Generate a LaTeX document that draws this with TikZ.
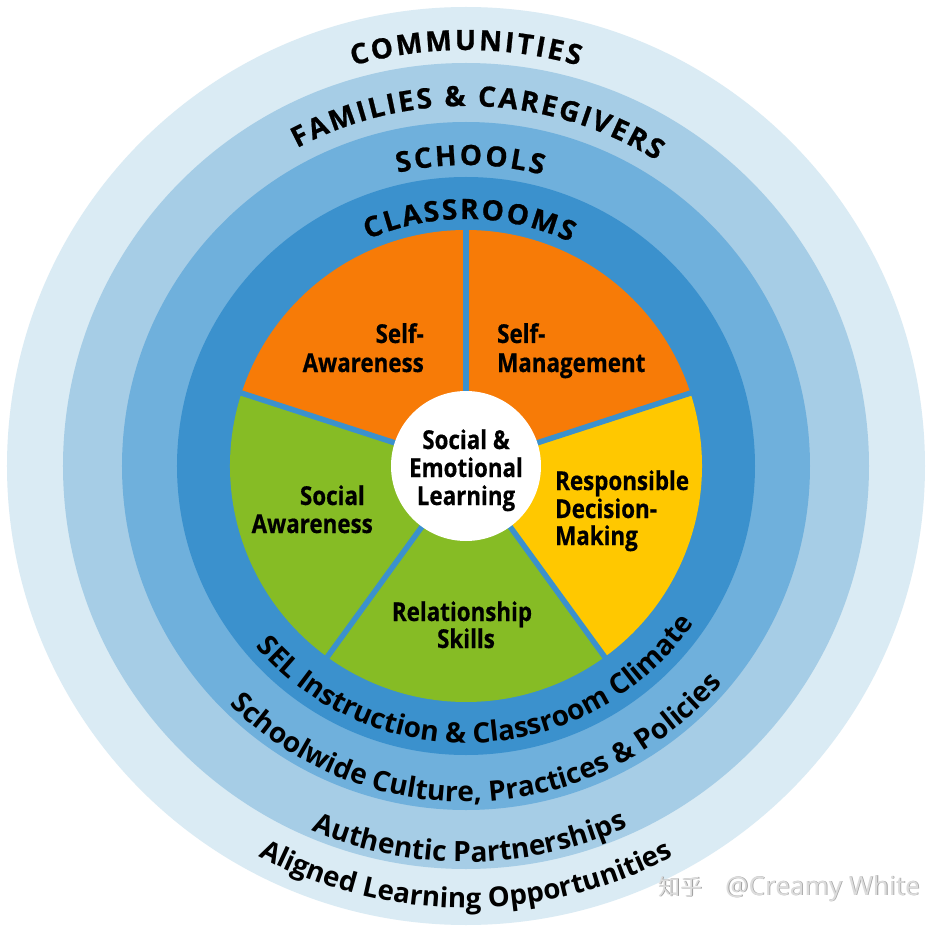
\documentclass[tikz,border=0pt]{standalone}
\usepackage{fontspec}
\setmainfont{Open Sans}
\newfontfamily\condfont[FakeStretch=0.86, FakeBold=0.5]{Open Sans}
\newfontfamily\titlefont[FakeBold=0.8]{Open Sans}
\newfontfamily\cjkfont{Noto Sans CJK SC}
\newfontfamily\wmfont{Noto Sans}
\definecolor{ringA}{HTML}{DAEBF4}
\definecolor{ringB}{HTML}{A6CDE6}
\definecolor{ringC}{HTML}{6FB0DC}
\definecolor{ringD}{HTML}{3B91CD}
\definecolor{selOrange}{HTML}{F77B07}
\definecolor{selGreen}{HTML}{86BC25}
\definecolor{selYellow}{HTML}{FFC800}
\definecolor{wmLight}{HTML}{DCDCDC}
\definecolor{wmDark}{HTML}{A0A0A0}
\newcommand\capsfont{\titlefont\bfseries\fontsize{28}{30}\selectfont}
\newcommand\lowfont{\bfseries\fontsize{28}{30}\selectfont}
\newcommand\lowfontb{\bfseries\fontsize{27.6}{30}\selectfont}
\newcommand\cm{,}
% #1 radius, #2 centre angle, #3 extra spacing (pt), #4 font, #5 direction (1 top, -1 bottom), #6 characters
\newcommand\arctext[6]{%
  \gdef\arctot{0}%
  \foreach \ch in {#6} {%
    \pgfinterruptpicture\setbox0=\hbox{#4\ch}\xdef\chw{\the\wd0}\endpgfinterruptpicture
    \pgfmathsetmacro\tmpsum{\arctot+\chw+#3}%
    \global\let\arctot\tmpsum
  }%
  \pgfmathsetmacro\tmpstart{-\arctot/2}%
  \global\let\arcpos\tmpstart
  \foreach \ch in {#6} {%
    \pgfinterruptpicture\setbox0=\hbox{#4\ch}\xdef\chw{\the\wd0}\endpgfinterruptpicture
    \pgfmathsetmacro\arcw{\chw+#3}%
    \pgfmathsetmacro\arcang{#2-(#5)*(\arcpos+\arcw/2)*57.29578/#1}%
    \pgfmathsetmacro\arcrot{\arcang-(#5)*90}%
    \node[anchor=base, inner sep=0pt, text=black, rotate=\arcrot] at (\arcang:#1) {#4\ch};
    \pgfmathsetmacro\tmpnext{\arcpos+\arcw}%
    \global\let\arcpos\tmpnext
  }%
}
\begin{document}
\begin{tikzpicture}[x=1pt,y=1pt,
  lbl/.style={font=\condfont\bfseries\fontsize{26}{28}\selectfont, inner sep=0pt, text=black},
  divider/.style={draw=ringD, line width=5.5pt},
  wmshadow/.style={inner sep=0pt, text=wmDark},
  wmtext/.style={inner sep=0pt, text=wmLight}
]
\useasboundingbox (-466,-466) rectangle (482,466);
\fill[white] (-466,-466) rectangle (482,466);
% rings
\fill[ringA] (0,0) circle[radius=459];
\fill[ringB] (0,0) circle[radius=403];
\fill[ringC] (0,0) circle[radius=344];
\fill[ringD] (0,0) circle[radius=289];
% wedges
\fill[selOrange] (0,0) -- (18:236) arc[start angle=18, end angle=90, radius=236] -- cycle;
\fill[selOrange] (0,0) -- (90:236) arc[start angle=90, end angle=162, radius=236] -- cycle;
\fill[selGreen] (0,0) -- (162:236) arc[start angle=162, end angle=234, radius=236] -- cycle;
\fill[selGreen] (0,0) -- (234:236) arc[start angle=234, end angle=306, radius=236] -- cycle;
\fill[selYellow] (0,0) -- (306:236) arc[start angle=306, end angle=378, radius=236] -- cycle;
% dividers
\coordinate (c0) at (0,0);
\foreach \a in {18,90,162,234,306} {
  \coordinate (d\a) at (\a:238);
  \draw[divider] (c0) -- (d\a);
}
\node[circle, fill=white, minimum size=150pt, inner sep=0pt] (hub) at (0,0) {};
% top titles
\arctext{416}{90}{2.6}{\capsfont}{1}{C,O,M,M,U,N,I,T,I,E,S}
\arctext{360}{88}{2.3}{\capsfont}{1}{F,A,M,I,L,I,E,S,~,\&,~,C,A,R,E,G,I,V,E,R,S}
\arctext{301}{89.2}{2.6}{\capsfont}{1}{S,C,H,O,O,L,S}
\arctext{247}{89.2}{2.2}{\capsfont}{1}{C,L,A,S,S,R,O,O,M,S}
% bottom texts
\arctext{277}{273.1}{0}{\lowfont}{-1}{S,E,L,~,I,n,s,t,r,u,c,t,i,o,n,~,\&,~,C,l,a,s,s,r,o,o,m,~,C,l,i,m,a,t,e}
\arctext{336}{272.5}{0}{\lowfont}{-1}{S,c,h,o,o,l,w,i,d,e,~,C,u,l,t,u,r,e,\cm,~,P,r,a,c,t,i,c,e,s,~,\&,~,P,o,l,i,c,i,e,s}
\arctext{396}{270.6}{0}{\lowfont}{-1}{A,u,t,h,e,n,t,i,c,~,P,a,r,t,n,e,r,s,h,i,p,s}
\arctext{442}{270}{0}{\lowfontb}{-1}{A,l,i,g,n,e,d,~,L,e,a,r,n,i,n,g,~,O,p,p,o,r,t,u,n,i,t,i,e,s}
% wedge labels
\node[lbl, anchor=base east] (sa1) at (-42,123) {Self-};
\node[lbl, anchor=base east] (sa2) at (-42,94) {Awareness};
\node[lbl, anchor=base west] (sm1) at (31,123) {Self-};
\node[lbl, anchor=base west] (sm2) at (31,94) {Management};
\node[lbl, anchor=base] (hub1) at (0,17) {Social \&};
\node[lbl, anchor=base] (hub2) at (0,-11) {Emotional};
\node[lbl, anchor=base] (hub3) at (0,-39) {Learning};
\node[lbl, anchor=base west] (rd1) at (89,-24) {Responsible};
\node[lbl, anchor=base west] (rd2) at (89,-52) {Decision-};
\node[lbl, anchor=base west] (rd3) at (89,-79) {Making};
\node[lbl, anchor=base east] (soa1) at (-101,-39) {Social};
\node[lbl, anchor=base east] (soa2) at (-93,-67) {Awareness};
\node[lbl, anchor=base] (rs1) at (-4,-155) {Relationship};
\node[lbl, anchor=base] (rs2) at (0,-182) {Skills};
% watermark
\node[wmshadow, anchor=base west, font=\cjkfont\fontsize{22}{24}\selectfont] (wm1s) at (192.8,-429.8) {知乎};
\node[wmtext, anchor=base west, font=\cjkfont\fontsize{22}{24}\selectfont] (wm1) at (192,-429) {知乎};
\node[wmshadow, anchor=base west, font=\wmfont\fontsize{26}{28}\selectfont] (wm2s) at (259.8,-429.8) {@Creamy White};
\node[wmtext, anchor=base west, font=\wmfont\fontsize{26}{28}\selectfont] (wm2) at (259,-429) {@Creamy White};
\end{tikzpicture}
\end{document}
